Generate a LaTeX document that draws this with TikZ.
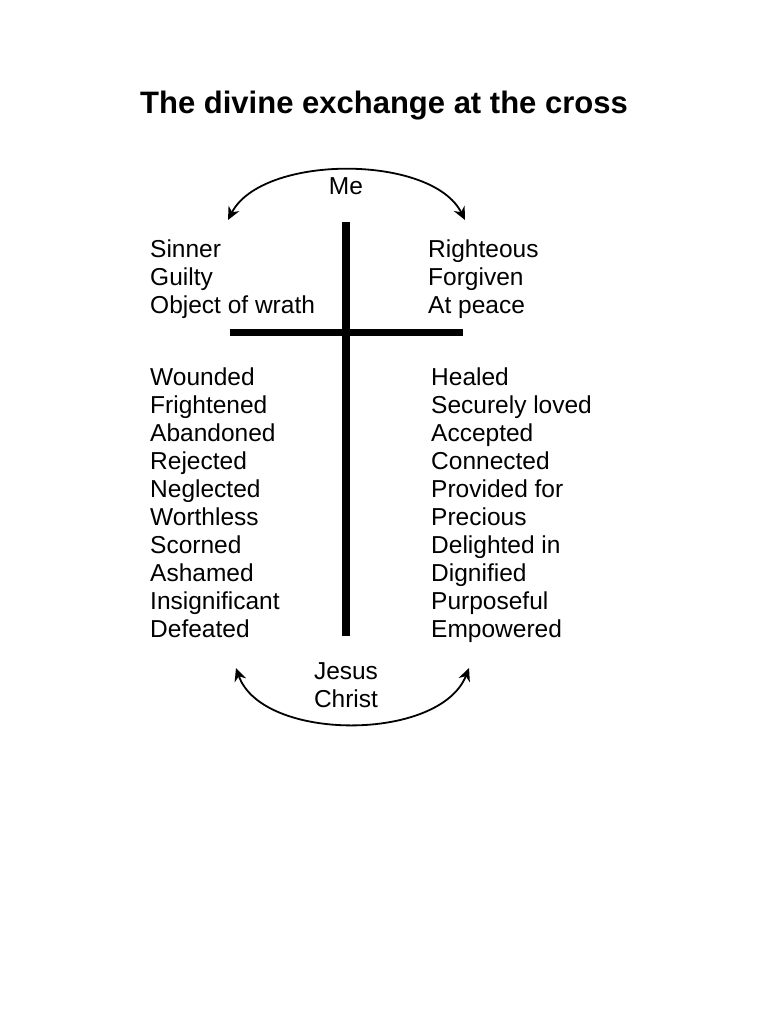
\documentclass[tikz,border=0pt]{standalone}
\usepackage{fontspec}
\setmainfont{Liberation Sans}
\usetikzlibrary{arrows.meta}
\begin{document}
\begin{tikzpicture}[x=1pt,y=-1pt,
  lbl/.style={anchor=base west,inner sep=0pt,font=\fontsize{24.5}{24.5}\selectfont},
  ctr/.style={anchor=base,inner sep=0pt,font=\fontsize{24.5}{24.5}\selectfont},
  bar/.style={line width=8pt},
  arc/.style={line width=1.8pt,{Stealth[length=13pt,width=12pt]}-{Stealth[length=13pt,width=12pt]}}]
\useasboundingbox (0,0) rectangle (768,1024);
\node[anchor=base,inner sep=0pt,font=\bfseries\fontsize{31}{31}\selectfont] (title) at (384,114) {The divine exchange at the cross};
\node[ctr] (me) at (346,195) {Me};
\coordinate (vt) at (346,222); \coordinate (vb) at (346,636);
\coordinate (hl) at (230,332); \coordinate (hr) at (463,332);
\draw[bar] (vt) -- (vb);
\draw[line width=7pt] (hl) -- (hr);
\coordinate (ma) at (228,220); \coordinate (mb) at (465,220);
\draw[arc] (ma) .. controls (262,154) and (432,154) .. (mb);
\foreach \t [count=\i] in {Sinner,Guilty,Object of wrath}
  \node[lbl] (l\i) at (150,{257+28*(\i-1)}) {\t};
\foreach \t [count=\i] in {Righteous,Forgiven,At peace}
  \node[lbl] (r\i) at (428,{257+28*(\i-1)}) {\t};
\foreach \t [count=\i] in {Wounded,Frightened,Abandoned,Rejected,Neglected,Worthless,Scorned,Ashamed,Insignificant,Defeated}
  \node[lbl] (ll\i) at (150,{385+28.1*(\i-1)}) {\t};
\foreach \t [count=\i] in {Healed,Securely loved,Accepted,Connected,Provided for,Precious,Delighted in,Dignified,Purposeful,Empowered}
  \node[lbl] (rr\i) at (431,{385+28.1*(\i-1)}) {\t};
\node[ctr] (jesus) at (346,679) {Jesus};
\node[ctr] (christ) at (346,707) {Christ};
\coordinate (ja) at (236,668); \coordinate (jb) at (469,668);
\draw[arc] (ja) .. controls (262,742) and (440,742) .. (jb);
\end{tikzpicture}
\end{document}
